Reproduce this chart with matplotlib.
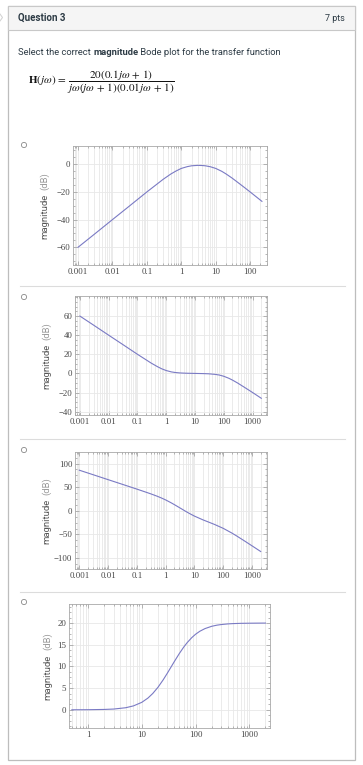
import numpy as np
import matplotlib.pyplot as plt
from matplotlib.patches import Rectangle, Circle
from matplotlib.ticker import FixedLocator, LogLocator, NullFormatter, MultipleLocator

plt.rcParams['mathtext.fontset'] = 'stix'

# ---- data (frequency in rad/s, magnitude in dB)
w_a = [0.001, 0.003, 0.01, 0.03, 0.1, 0.2, 0.3, 0.5, 0.7, 1, 1.5, 2, 3, 4, 5,
       7, 10, 15, 20, 30, 50, 70, 100, 150, 220]
db_a = [-60.0, -50.5, -40.0, -30.5, -20.0, -14.2, -10.8, -7.0, -4.9, -3.0, -1.7,
        -1.1, -0.8, -0.9, -1.1, -1.8, -3.0, -5.1, -7.0, -10.0, -14.2, -17.0,
        -20.0, -23.5, -26.8]

w_b = [0.001, 0.003, 0.01, 0.03, 0.1, 0.2, 0.3, 0.5, 0.7, 1, 1.5, 2, 3, 5, 10,
       20, 30, 50, 70, 100, 150, 200, 300, 500, 700, 1000, 1500, 2000]
db_b = [60.0, 50.5, 40.0, 30.5, 20.0, 14.2, 10.8, 7.0, 4.8, 3.0, 1.6, 1.0, 0.5,
        0.2, 0.0, -0.2, -0.4, -1.0, -1.7, -3.0, -5.1, -7.0, -10.0, -14.2, -17.0,
        -20.0, -23.5, -26.0]

w_c = [0.001, 0.003, 0.01, 0.03, 0.1, 0.2, 0.3, 0.5, 0.7, 1, 1.5, 2, 3, 5, 7,
       10, 20, 30, 50, 100, 200, 300, 500, 1000, 2000]
db_c = [86.0, 76.5, 66.0, 56.5, 46.0, 39.8, 36.1, 31.1, 27.4, 23.1, 17.5, 13.2,
        6.9, -1.2, -6.2, -11.1, -19.2, -23.4, -28.8, -37.0, -47.0, -53.5, -62.1,
        -74.0, -86.0]

w_d = [0.5, 1, 2, 3, 5, 7, 10, 13, 16, 20, 25, 30, 40, 50, 60, 70, 85, 100,
       120, 150, 200, 250, 300, 400, 500, 700, 1000, 1500, 2000]
db_d = [0.0, 0.02, 0.08, 0.17, 0.47, 0.90, 1.72, 2.70, 3.76, 5.19, 6.91, 8.48,
        11.06, 12.99, 14.43, 15.50, 16.64, 17.42, 18.11, 18.73, 19.26, 19.52,
        19.66, 19.81, 19.88, 19.94, 19.97, 19.99, 20.0]

xt_a = [0.001, 0.01, 0.1, 1, 10, 100]
xl_a = ['0.001', '0.01', '0.1', '1', '10', '100']
yt_a = [-60, -40, -20, 0]
xt_b = [0.001, 0.01, 0.1, 1, 10, 100, 1000]
xl_b = ['0.001', '0.01', '0.1', '1', '10', '100', '1000']
yt_b = [-40, -20, 0, 20, 40, 60]
yt_c = [-100, -50, 0, 50, 100]
xt_d = [1, 10, 100, 1000]
xl_d = ['1', '10', '100', '1000']
yt_d = [0, 5, 10, 15, 20]

W, H = 363, 765
LINE = '#7a7ac4'
GRID = '#e8e8e8'

fig = plt.figure(figsize=(W / 100, H / 100), dpi=100)
bg = fig.add_axes([0, 0, 1, 1])
bg.set_xlim(0, W)
bg.set_ylim(H, 0)
bg.axis('off')

# card + header
bg.add_patch(Rectangle((7.5, 5.5), 347.5, 754.5, fc='white', ec='#bdbdbd', lw=0.9))
bg.add_patch(Rectangle((7.5, 5.5), 347.5, 24.5, fc='#f5f5f5', ec='#c8c8c8', lw=0.8))
bg.plot([0, 2.5, 0], [14, 17.5, 21], color='#d0d0d0', lw=0.7)
bg.text(18, 18, 'Question 3', fontsize=7, fontweight='bold', family='Roboto',
        color='#2d3b45', va='center')
bg.text(345, 18, '7 pts', fontsize=6.5, family='Roboto', color='#2d3b45',
        va='center', ha='right')

# question line with bold word
renderer = fig.canvas.get_renderer()
x0 = 18
for part, wt in [('Select the correct ', 'normal'), ('magnitude', 'bold'),
                 (' Bode plot for the transfer function', 'normal')]:
    t = bg.text(x0, 52, part, fontsize=6.75, family='Roboto', fontweight=wt,
                color='#2d3b45', va='center')
    bb = t.get_window_extent(renderer)
    x0 += bb.width

bg.text(28, 82, r'$\mathbf{H}(j\omega)\,=\,\dfrac{20(0.1j\omega\,+\,1)}'
        r'{j\omega(j\omega\,+\,1)(0.01j\omega\,+\,1)}$',
        fontsize=8, color='#111111', va='center')

# separators and radio buttons
for y in [286, 439, 592]:
    bg.plot([20, 345], [y, y], color='#dcdcdc', lw=0.8)
for y in [145, 297, 450, 602]:
    bg.add_patch(Circle((24, y), 2.6, fill=False, ec='#8a8a8a', lw=0.6))


def px_axes(l, t, r, b):
    return fig.add_axes([l / W, 1 - b / H, (r - l) / W, (b - t) / H])


def bode(box, w, db, xlim, ylim, xt, xl, yt, lab_x):
    ax = px_axes(*box)
    ax.semilogx(w, db, color=LINE, lw=0.8)
    ax.set_xlim(*xlim)
    ax.set_ylim(*ylim)
    ax.xaxis.set_major_locator(FixedLocator(xt))
    ax.set_xticklabels(xl)
    ax.xaxis.set_minor_locator(LogLocator(base=10, subs=range(2, 10), numticks=20))
    ax.xaxis.set_minor_formatter(NullFormatter())
    ax.yaxis.set_major_locator(FixedLocator(yt))
    ax.set_yticklabels([str(v).replace('-', '\u2212') for v in yt])
    ax.yaxis.set_minor_locator(MultipleLocator((yt[1] - yt[0]) / 4))
    ax.grid(which='both', axis='x', color=GRID, lw=0.6)
    ax.grid(which='major', axis='y', color=GRID, lw=0.6)
    ax.set_axisbelow(True)
    ax.tick_params(which='both', direction='in', top=True, right=True,
                   color='#9a9a9a', width=0.5, labelcolor='#444444',
                   labelsize=6.3, pad=2)
    ax.tick_params(which='major', length=3)
    ax.tick_params(which='minor', length=1.6)
    for lab in ax.get_xticklabels() + ax.get_yticklabels():
        lab.set_family('Liberation Serif')
    for s in ax.spines.values():
        s.set_color('#a8a8a8')
        s.set_linewidth(0.6)

    # two-tone axis label
    yc = (box[1] + box[3]) / 2
    m = bg.text(lab_x, yc, 'magnitude', rotation=90, fontsize=6.8, family='Roboto',
                color='#555555', ha='center', va='center')
    d = bg.text(lab_x, yc, '(dB)', rotation=90, fontsize=6.8, family='Roboto',
                color='#9a9a9a', ha='center', va='center')
    hm = m.get_window_extent(renderer).height
    hd = d.get_window_extent(renderer).height
    gap = 4
    total = hm + gap + hd
    m.set_y(yc + total / 2 - hm / 2)
    d.set_y(yc - total / 2 + hd / 2)
    return ax


bode((73, 146, 267, 265), w_a, db_a, (10 ** -3.146, 10 ** 2.49), (-72.8, 13.2),
     xt_a, xl_a, yt_a, 45)
bode((75, 296, 267, 415), w_b, db_b, (10 ** -3.17, 10 ** 3.5), (-43.5, 81),
     xt_b, xl_b, yt_b, 46.5)
bode((75, 452, 267, 569), w_c, db_c, (10 ** -3.15, 10 ** 3.52), (-123, 124.5),
     xt_b, xl_b, yt_c, 46.5)
bode((69, 604, 270, 728), w_d, db_d, (10 ** -0.354, 10 ** 3.385), (-4.2, 24.4),
     xt_d, xl_d, yt_d, 48)

fig.savefig('out.png', dpi=100)
